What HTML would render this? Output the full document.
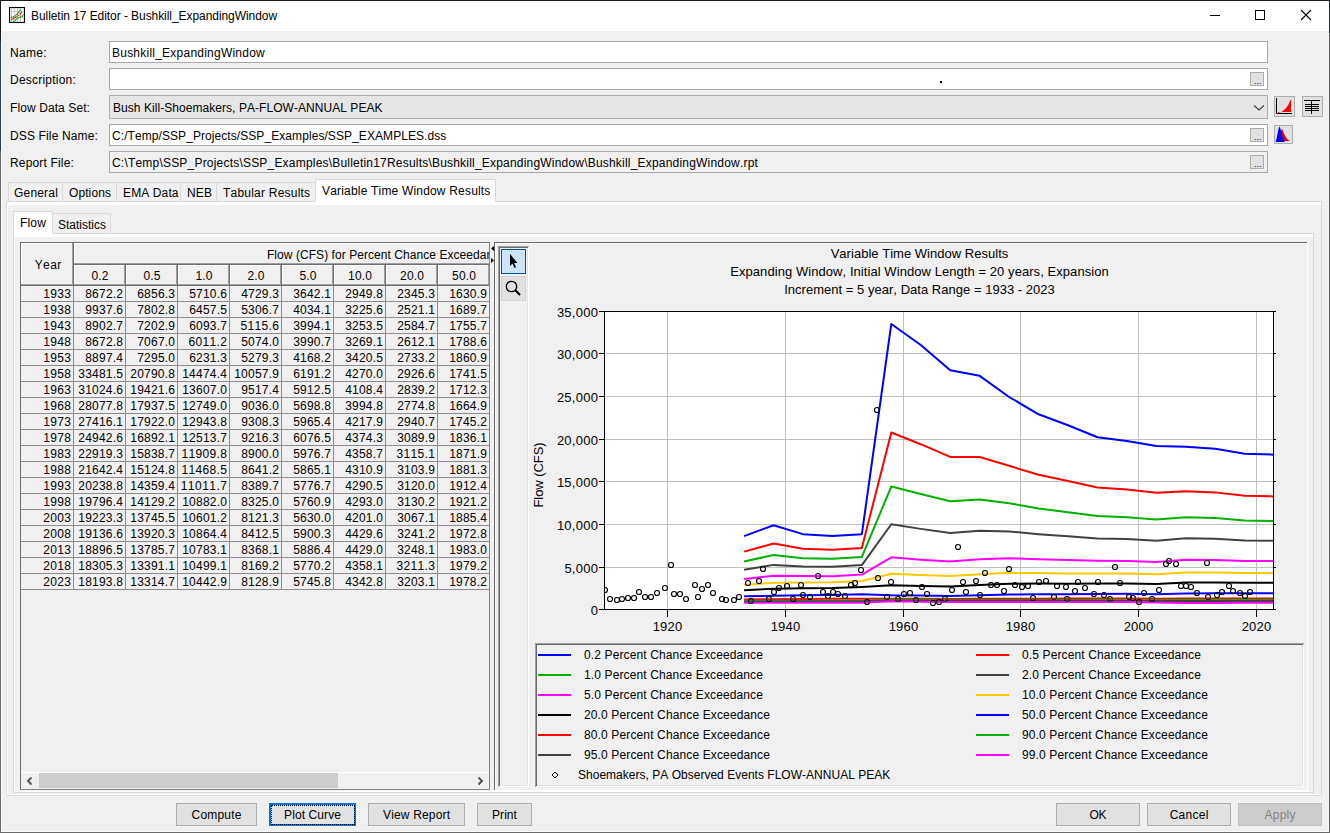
<!DOCTYPE html>
<html><head><meta charset="utf-8"><title>Bulletin 17 Editor - Bushkill_ExpandingWindow</title>
<style>
html,body{margin:0;padding:0;}
body{width:1330px;height:833px;position:relative;overflow:hidden;background:#f0f0f0;font-family:'Liberation Sans', sans-serif;font-size:12px;color:#000;}
body div{position:absolute;}
.t{white-space:nowrap;font-kerning:none;}
svg{display:block}
</style></head><body>
<div style="left:0px;top:0px;width:1330px;height:833px;background:#f0f0f0"></div>
<div style="left:1px;top:1px;width:1328px;height:30px;background:#fff"></div>
<div style="left:0px;top:0px;width:1330px;height:1px;background:#1c1c1c"></div>
<div style="left:0px;top:0px;width:1px;height:833px;background:#6a6a6a"></div>
<div style="left:0px;top:0px;width:1px;height:41px;background:#1c1c1c"></div>
<div style="left:0px;top:41px;width:1px;height:110px;background:#2a3f5f"></div>
<div style="left:1329px;top:0px;width:1px;height:833px;background:#6a6a6a"></div>
<div style="left:1329px;top:0px;width:1px;height:33px;background:#0f2a52"></div>
<div style="left:0px;top:832px;width:1330px;height:1px;background:#6a6a6a"></div>
<div style="left:1px;top:831px;width:1328px;height:1px;background:#fbfbfb"></div>
<div style="left:1px;top:31px;width:1px;height:801px;background:#f8f8f8"></div>
<svg style="position:absolute;left:9px;top:7px" width="16" height="16" viewBox="0 0 16 16">
<rect x="0.5" y="0.5" width="15" height="15" fill="#fff" stroke="#000" stroke-width="1.2"/>
<g stroke="#c4c4c4" stroke-width="1"><line x1="2.5" y1="1" x2="2.5" y2="15"/><line x1="5.5" y1="1" x2="5.5" y2="15"/><line x1="8.5" y1="1" x2="8.5" y2="15"/><line x1="11.5" y1="1" x2="11.5" y2="15"/><line x1="1" y1="4.5" x2="15" y2="4.5"/><line x1="1" y1="10.5" x2="15" y2="10.5"/></g>
<polyline points="2,10.5 4,10 6,9.5 8,7 10,5 12,2.5" fill="none" stroke="#16a016" stroke-width="1.3" stroke-dasharray="1.6 0.5"/>
<polyline points="2,13 5,11 8,9.5 10,8 13,5" fill="none" stroke="#ff1a1a" stroke-width="1.3" stroke-dasharray="1.6 0.5"/>
<polyline points="4,15 7,12.5 9,11 11,10 13,9.5 15,7.5" fill="none" stroke="#16a016" stroke-width="1.3" stroke-dasharray="1.6 0.5"/>
</svg>
<div class="t" style="left:31px;top:9px;font-size:12px;line-height:14px;color:#000;letter-spacing:-0.062px;">Bulletin 17 Editor - Bushkill_ExpandingWindow</div>
<div style="left:1210px;top:15px;width:10px;height:1px;background:#000"></div>
<div style="left:1255px;top:10px;width:10px;height:10px;border:1px solid #000;box-sizing:border-box"></div>
<svg style="position:absolute;left:1300px;top:9px" width="12" height="12" viewBox="0 0 12 12"><path d="M1 1 L11 11 M11 1 L1 11" stroke="#000" stroke-width="1.1"/></svg>
<div class="t" style="left:10px;top:46px;font-size:12px;line-height:14px;color:#000;letter-spacing:0.331px;">Name:</div>
<div class="t" style="left:10px;top:73px;font-size:12px;line-height:14px;color:#000;letter-spacing:0.220px;">Description:</div>
<div class="t" style="left:10px;top:101px;font-size:12px;line-height:14px;color:#000;letter-spacing:0.095px;">Flow Data Set:</div>
<div class="t" style="left:10px;top:129px;font-size:12px;line-height:14px;color:#000;letter-spacing:0.142px;">DSS File Name:</div>
<div class="t" style="left:10px;top:156px;font-size:12px;line-height:14px;color:#000;letter-spacing:0.165px;">Report File:</div>
<div style="left:109px;top:41px;width:1159px;height:22px;background:#fff;border:1px solid #a7a7aa;box-sizing:border-box"></div>
<div class="t" style="left:112px;top:46px;font-size:12px;line-height:14px;color:#000;letter-spacing:0.232px;">Bushkill_ExpandingWindow</div>
<div style="left:109px;top:68px;width:1159px;height:22px;background:#fff;border:1px solid #a7a7aa;box-sizing:border-box"></div>
<div style="left:1250px;top:72px;width:14px;height:14px;background:#e1e1e1;border:1px solid #adadad;box-sizing:border-box"></div>
<div class="t" style="left:1254px;top:76px;font-size:9px;line-height:11px;color:#000;">...</div>
<div style="left:109px;top:95px;width:1159px;height:24px;background:#e5e5e5;border:1px solid #adadad;box-sizing:border-box"></div>
<div class="t" style="left:113px;top:101px;font-size:12px;line-height:14px;color:#000;letter-spacing:0.053px;">Bush Kill-Shoemakers, PA-FLOW-ANNUAL PEAK</div>
<svg style="position:absolute;left:1253px;top:104px" width="12" height="8" viewBox="0 0 12 8"><polyline points="1,1.5 6,6 11,1.5" fill="none" stroke="#404040" stroke-width="1.2"/></svg>
<div style="left:109px;top:124px;width:1159px;height:22px;background:#fff;border:1px solid #a7a7aa;box-sizing:border-box"></div>
<div style="left:1250px;top:128px;width:14px;height:14px;background:#e1e1e1;border:1px solid #adadad;box-sizing:border-box"></div>
<div class="t" style="left:1254px;top:132px;font-size:9px;line-height:11px;color:#000;">...</div>
<div class="t" style="left:112px;top:129px;font-size:12px;line-height:14px;color:#000;letter-spacing:0.072px;">C:/Temp/SSP_Projects/SSP_Examples/SSP_EXAMPLES.dss</div>
<div style="left:109px;top:151px;width:1159px;height:22px;background:#f0f0f0;border:1px solid #a7a7aa;box-sizing:border-box"></div>
<div style="left:1250px;top:155px;width:14px;height:14px;background:#e1e1e1;border:1px solid #adadad;box-sizing:border-box"></div>
<div class="t" style="left:1254px;top:159px;font-size:9px;line-height:11px;color:#000;">...</div>
<div class="t" style="left:112px;top:156px;font-size:12px;line-height:14px;color:#000;letter-spacing:0.201px;">C:\Temp\SSP_Projects\SSP_Examples\Bulletin17Results\Bushkill_ExpandingWindow\Bushkill_ExpandingWindow.rpt</div>
<div style="left:940px;top:81px;width:2px;height:2px;background:#000"></div>
<div style="left:1274px;top:96px;width:21px;height:21px;background:#e1e1e1;border:1px solid #adadad;box-sizing:border-box"></div>
<svg style="position:absolute;left:1274px;top:96px" width="21" height="21" viewBox="0 0 21 21">
<path d="M4 17 Q12 16 17 3 L17 16 L4 16 Z" fill="#ff0000"/>
<path d="M2.5 2 V17.5 H18" fill="none" stroke="#000" stroke-width="1"/>
</svg>
<div style="left:1302px;top:96px;width:21px;height:21px;background:#e1e1e1;border:1px solid #adadad;box-sizing:border-box"></div>
<svg style="position:absolute;left:1302px;top:96px" width="21" height="21" viewBox="0 0 21 21">
<g stroke="#000" stroke-width="1"><line x1="2" y1="4.5" x2="18" y2="4.5"/><line x1="3" y1="8.5" x2="17" y2="8.5"/><line x1="3" y1="10.5" x2="17" y2="10.5"/><line x1="3" y1="12.5" x2="17" y2="12.5"/><line x1="3" y1="14.5" x2="17" y2="14.5"/><line x1="9.5" y1="4" x2="9.5" y2="18"/></g>
</svg>
<div style="left:1274px;top:125px;width:19px;height:19px;background:#e1e1e1;border:1px solid #adadad;box-sizing:border-box"></div>
<svg style="position:absolute;left:1274px;top:125px" width="19" height="19" viewBox="0 0 19 19">
<path d="M3 16 C5 16 6 6 8 4 C9 5 11 14 16 16 Z" fill="#e00000"/>
<path d="M1.5 17 C3 15 4 3 5.5 1.5 C7 3 8 14 11 17 Z" fill="#0000ff"/>
</svg>
<div style="left:8px;top:182px;width:55px;height:20px;background:#f0f0f0;border:1px solid #d9d9d9;box-sizing:border-box"></div>
<div class="t" style="left:14px;top:186px;font-size:12px;line-height:14px;color:#000;letter-spacing:0.188px;">General</div>
<div style="left:62px;top:182px;width:55px;height:20px;background:#f0f0f0;border:1px solid #d9d9d9;box-sizing:border-box"></div>
<div class="t" style="left:69px;top:186px;font-size:12px;line-height:14px;color:#000;letter-spacing:0.094px;">Options</div>
<div style="left:116px;top:182px;width:65px;height:20px;background:#f0f0f0;border:1px solid #d9d9d9;box-sizing:border-box"></div>
<div class="t" style="left:123px;top:186px;font-size:12px;line-height:14px;color:#000;letter-spacing:0.123px;">EMA Data</div>
<div style="left:180px;top:182px;width:37px;height:20px;background:#f0f0f0;border:1px solid #d9d9d9;box-sizing:border-box"></div>
<div class="t" style="left:187px;top:186px;font-size:12px;line-height:14px;color:#000;letter-spacing:0.109px;">NEB</div>
<div style="left:216px;top:182px;width:100px;height:20px;background:#f0f0f0;border:1px solid #d9d9d9;box-sizing:border-box"></div>
<div class="t" style="left:223px;top:186px;font-size:12px;line-height:14px;color:#000;letter-spacing:0.220px;">Tabular Results</div>
<div style="left:315px;top:179px;width:181px;height:26px;background:#fff;border:1px solid #d9d9d9;border-bottom:none;box-sizing:border-box"></div>
<div class="t" style="left:322px;top:184px;font-size:12px;line-height:14px;color:#000;letter-spacing:0.184px;">Variable Time Window Results</div>
<div style="left:6px;top:201px;width:1316px;height:1px;background:#d9d9d9"></div>
<div style="left:6px;top:201px;width:1px;height:595px;background:#d9d9d9"></div>
<div style="left:1321px;top:201px;width:1px;height:595px;background:#d9d9d9"></div>
<div style="left:6px;top:795px;width:1316px;height:1px;background:#d9d9d9"></div>
<div style="left:7px;top:202px;width:1314px;height:3px;background:#fff"></div>
<div style="left:7px;top:202px;width:1px;height:593px;background:#fff"></div>
<div style="left:7px;top:794px;width:1314px;height:1px;background:#fff"></div>
<div style="left:316px;top:201px;width:179px;height:4px;background:#fff"></div>
<div style="left:52px;top:213px;width:59px;height:21px;background:#f0f0f0;border:1px solid #d9d9d9;box-sizing:border-box"></div>
<div class="t" style="left:58px;top:218px;font-size:12px;line-height:14px;color:#000;letter-spacing:0.000px;">Statistics</div>
<div style="left:13px;top:211px;width:40px;height:26px;background:#fff;border:1px solid #d9d9d9;border-bottom:none;box-sizing:border-box"></div>
<div class="t" style="left:20px;top:216px;font-size:12px;line-height:14px;color:#000;letter-spacing:0.164px;">Flow</div>
<div style="left:13px;top:233px;width:1301px;height:1px;background:#d9d9d9"></div>
<div style="left:13px;top:233px;width:1px;height:560px;background:#d9d9d9"></div>
<div style="left:1313px;top:233px;width:1px;height:560px;background:#d9d9d9"></div>
<div style="left:13px;top:792px;width:1301px;height:1px;background:#d9d9d9"></div>
<div style="left:14px;top:234px;width:1299px;height:3px;background:#fff"></div>
<div style="left:14px;top:234px;width:1px;height:558px;background:#fff"></div>
<div style="left:14px;top:791px;width:1299px;height:1px;background:#fff"></div>
<div style="left:14px;top:233px;width:38px;height:4px;background:#fff"></div>
<div style="left:20px;top:242px;width:470px;height:548px;background:#f0f0f0"></div>
<div style="left:20px;top:242px;width:470px;height:1px;background:#6e6e6e"></div>
<div style="left:20px;top:242px;width:1px;height:548px;background:#6e6e6e"></div>
<div style="left:489px;top:242px;width:1px;height:548px;background:#828790"></div>
<div style="left:20px;top:789px;width:470px;height:1px;background:#828790"></div>
<div style="left:21px;top:243px;width:468px;height:529px;overflow:hidden">
<div style="left:0px;top:0px;width:53px;height:43px;background:#f0f0f0"></div>
<div style="left:0px;top:0px;width:52px;height:1px;background:#fff"></div>
<div style="left:0px;top:0px;width:1px;height:42px;background:#fff"></div>
<div style="left:51px;top:0px;width:1px;height:42px;background:#a0a0a0"></div>
<div style="left:0px;top:41px;width:52px;height:1px;background:#a0a0a0"></div>
<div style="left:52px;top:0px;width:1px;height:43px;background:#6e6e6e"></div>
<div style="left:0px;top:42px;width:53px;height:1px;background:#6e6e6e"></div>
<div class="t" style="left:-172.78px;width:400px;text-align:center;top:15px;font-size:12px;line-height:14px;color:#000;letter-spacing:0.438px;">Year</div>
<div style="left:53px;top:0px;width:625px;height:22px;background:#f0f0f0"></div>
<div style="left:53px;top:0px;width:624px;height:1px;background:#fff"></div>
<div style="left:53px;top:0px;width:1px;height:21px;background:#fff"></div>
<div style="left:676px;top:0px;width:1px;height:21px;background:#a0a0a0"></div>
<div style="left:53px;top:20px;width:624px;height:1px;background:#a0a0a0"></div>
<div style="left:677px;top:0px;width:1px;height:22px;background:#6e6e6e"></div>
<div style="left:53px;top:21px;width:625px;height:1px;background:#6e6e6e"></div>
<div class="t" style="left:165.53px;width:400px;text-align:center;top:5px;font-size:12px;line-height:14px;color:#000;letter-spacing:0.057px;">Flow (CFS) for Percent Chance Exceedance</div>
<div style="left:53px;top:22px;width:52px;height:21px;background:#f0f0f0"></div>
<div style="left:53px;top:22px;width:51px;height:1px;background:#fff"></div>
<div style="left:53px;top:22px;width:1px;height:20px;background:#fff"></div>
<div style="left:103px;top:22px;width:1px;height:20px;background:#a0a0a0"></div>
<div style="left:53px;top:41px;width:51px;height:1px;background:#a0a0a0"></div>
<div style="left:104px;top:22px;width:1px;height:21px;background:#6e6e6e"></div>
<div style="left:53px;top:42px;width:52px;height:1px;background:#6e6e6e"></div>
<div class="t" style="left:-120.95px;width:400px;text-align:center;top:26px;font-size:12px;line-height:14px;color:#000;letter-spacing:0.109px;">0.2</div>
<div style="left:105px;top:22px;width:52px;height:21px;background:#f0f0f0"></div>
<div style="left:105px;top:22px;width:51px;height:1px;background:#fff"></div>
<div style="left:105px;top:22px;width:1px;height:20px;background:#fff"></div>
<div style="left:155px;top:22px;width:1px;height:20px;background:#a0a0a0"></div>
<div style="left:105px;top:41px;width:51px;height:1px;background:#a0a0a0"></div>
<div style="left:156px;top:22px;width:1px;height:21px;background:#6e6e6e"></div>
<div style="left:105px;top:42px;width:52px;height:1px;background:#6e6e6e"></div>
<div class="t" style="left:-68.95px;width:400px;text-align:center;top:26px;font-size:12px;line-height:14px;color:#000;letter-spacing:0.109px;">0.5</div>
<div style="left:157px;top:22px;width:52px;height:21px;background:#f0f0f0"></div>
<div style="left:157px;top:22px;width:51px;height:1px;background:#fff"></div>
<div style="left:157px;top:22px;width:1px;height:20px;background:#fff"></div>
<div style="left:207px;top:22px;width:1px;height:20px;background:#a0a0a0"></div>
<div style="left:157px;top:41px;width:51px;height:1px;background:#a0a0a0"></div>
<div style="left:208px;top:22px;width:1px;height:21px;background:#6e6e6e"></div>
<div style="left:157px;top:42px;width:52px;height:1px;background:#6e6e6e"></div>
<div class="t" style="left:-16.95px;width:400px;text-align:center;top:26px;font-size:12px;line-height:14px;color:#000;letter-spacing:0.109px;">1.0</div>
<div style="left:209px;top:22px;width:52px;height:21px;background:#f0f0f0"></div>
<div style="left:209px;top:22px;width:51px;height:1px;background:#fff"></div>
<div style="left:209px;top:22px;width:1px;height:20px;background:#fff"></div>
<div style="left:259px;top:22px;width:1px;height:20px;background:#a0a0a0"></div>
<div style="left:209px;top:41px;width:51px;height:1px;background:#a0a0a0"></div>
<div style="left:260px;top:22px;width:1px;height:21px;background:#6e6e6e"></div>
<div style="left:209px;top:42px;width:52px;height:1px;background:#6e6e6e"></div>
<div class="t" style="left:35.05px;width:400px;text-align:center;top:26px;font-size:12px;line-height:14px;color:#000;letter-spacing:0.109px;">2.0</div>
<div style="left:261px;top:22px;width:52px;height:21px;background:#f0f0f0"></div>
<div style="left:261px;top:22px;width:51px;height:1px;background:#fff"></div>
<div style="left:261px;top:22px;width:1px;height:20px;background:#fff"></div>
<div style="left:311px;top:22px;width:1px;height:20px;background:#a0a0a0"></div>
<div style="left:261px;top:41px;width:51px;height:1px;background:#a0a0a0"></div>
<div style="left:312px;top:22px;width:1px;height:21px;background:#6e6e6e"></div>
<div style="left:261px;top:42px;width:52px;height:1px;background:#6e6e6e"></div>
<div class="t" style="left:87.05px;width:400px;text-align:center;top:26px;font-size:12px;line-height:14px;color:#000;letter-spacing:0.109px;">5.0</div>
<div style="left:313px;top:22px;width:52px;height:21px;background:#f0f0f0"></div>
<div style="left:313px;top:22px;width:51px;height:1px;background:#fff"></div>
<div style="left:313px;top:22px;width:1px;height:20px;background:#fff"></div>
<div style="left:363px;top:22px;width:1px;height:20px;background:#a0a0a0"></div>
<div style="left:313px;top:41px;width:51px;height:1px;background:#a0a0a0"></div>
<div style="left:364px;top:22px;width:1px;height:21px;background:#6e6e6e"></div>
<div style="left:313px;top:42px;width:52px;height:1px;background:#6e6e6e"></div>
<div class="t" style="left:139.08px;width:400px;text-align:center;top:26px;font-size:12px;line-height:14px;color:#000;letter-spacing:0.164px;">10.0</div>
<div style="left:365px;top:22px;width:52px;height:21px;background:#f0f0f0"></div>
<div style="left:365px;top:22px;width:51px;height:1px;background:#fff"></div>
<div style="left:365px;top:22px;width:1px;height:20px;background:#fff"></div>
<div style="left:415px;top:22px;width:1px;height:20px;background:#a0a0a0"></div>
<div style="left:365px;top:41px;width:51px;height:1px;background:#a0a0a0"></div>
<div style="left:416px;top:22px;width:1px;height:21px;background:#6e6e6e"></div>
<div style="left:365px;top:42px;width:52px;height:1px;background:#6e6e6e"></div>
<div class="t" style="left:191.08px;width:400px;text-align:center;top:26px;font-size:12px;line-height:14px;color:#000;letter-spacing:0.164px;">20.0</div>
<div style="left:417px;top:22px;width:52px;height:21px;background:#f0f0f0"></div>
<div style="left:417px;top:22px;width:51px;height:1px;background:#fff"></div>
<div style="left:417px;top:22px;width:1px;height:20px;background:#fff"></div>
<div style="left:467px;top:22px;width:1px;height:20px;background:#a0a0a0"></div>
<div style="left:417px;top:41px;width:51px;height:1px;background:#a0a0a0"></div>
<div style="left:468px;top:22px;width:1px;height:21px;background:#6e6e6e"></div>
<div style="left:417px;top:42px;width:52px;height:1px;background:#6e6e6e"></div>
<div class="t" style="left:243.08px;width:400px;text-align:center;top:26px;font-size:12px;line-height:14px;color:#000;letter-spacing:0.164px;">50.0</div>
<div style="left:469px;top:22px;width:52px;height:21px;background:#f0f0f0"></div>
<div style="left:469px;top:22px;width:51px;height:1px;background:#fff"></div>
<div style="left:469px;top:22px;width:1px;height:20px;background:#fff"></div>
<div style="left:519px;top:22px;width:1px;height:20px;background:#a0a0a0"></div>
<div style="left:469px;top:41px;width:51px;height:1px;background:#a0a0a0"></div>
<div style="left:520px;top:22px;width:1px;height:21px;background:#6e6e6e"></div>
<div style="left:469px;top:42px;width:52px;height:1px;background:#6e6e6e"></div>
<div class="t" style="left:295.08px;width:400px;text-align:center;top:26px;font-size:12px;line-height:14px;color:#000;letter-spacing:0.164px;">80.0</div>
<div style="left:521px;top:22px;width:52px;height:21px;background:#f0f0f0"></div>
<div style="left:521px;top:22px;width:51px;height:1px;background:#fff"></div>
<div style="left:521px;top:22px;width:1px;height:20px;background:#fff"></div>
<div style="left:571px;top:22px;width:1px;height:20px;background:#a0a0a0"></div>
<div style="left:521px;top:41px;width:51px;height:1px;background:#a0a0a0"></div>
<div style="left:572px;top:22px;width:1px;height:21px;background:#6e6e6e"></div>
<div style="left:521px;top:42px;width:52px;height:1px;background:#6e6e6e"></div>
<div class="t" style="left:347.08px;width:400px;text-align:center;top:26px;font-size:12px;line-height:14px;color:#000;letter-spacing:0.164px;">90.0</div>
<div style="left:573px;top:22px;width:52px;height:21px;background:#f0f0f0"></div>
<div style="left:573px;top:22px;width:51px;height:1px;background:#fff"></div>
<div style="left:573px;top:22px;width:1px;height:20px;background:#fff"></div>
<div style="left:623px;top:22px;width:1px;height:20px;background:#a0a0a0"></div>
<div style="left:573px;top:41px;width:51px;height:1px;background:#a0a0a0"></div>
<div style="left:624px;top:22px;width:1px;height:21px;background:#6e6e6e"></div>
<div style="left:573px;top:42px;width:52px;height:1px;background:#6e6e6e"></div>
<div class="t" style="left:399.08px;width:400px;text-align:center;top:26px;font-size:12px;line-height:14px;color:#000;letter-spacing:0.164px;">95.0</div>
<div style="left:625px;top:22px;width:52px;height:21px;background:#f0f0f0"></div>
<div style="left:625px;top:22px;width:51px;height:1px;background:#fff"></div>
<div style="left:625px;top:22px;width:1px;height:20px;background:#fff"></div>
<div style="left:675px;top:22px;width:1px;height:20px;background:#a0a0a0"></div>
<div style="left:625px;top:41px;width:51px;height:1px;background:#a0a0a0"></div>
<div style="left:676px;top:22px;width:1px;height:21px;background:#6e6e6e"></div>
<div style="left:625px;top:42px;width:52px;height:1px;background:#6e6e6e"></div>
<div class="t" style="left:451.08px;width:400px;text-align:center;top:26px;font-size:12px;line-height:14px;color:#000;letter-spacing:0.164px;">99.0</div>
<div style="left:0px;top:58px;width:468px;height:1px;background:#8c8c8c"></div>
<div class="t" style="left:-149.67px;width:200px;text-align:right;top:44px;font-size:12px;line-height:14px;color:#000;letter-spacing:0.328px;">1933</div>
<div class="t" style="left:-97.78px;width:200px;text-align:right;top:44px;font-size:12px;line-height:14px;color:#000;letter-spacing:0.219px;">8672.2</div>
<div class="t" style="left:-45.78px;width:200px;text-align:right;top:44px;font-size:12px;line-height:14px;color:#000;letter-spacing:0.219px;">6856.3</div>
<div class="t" style="left:6.22px;width:200px;text-align:right;top:44px;font-size:12px;line-height:14px;color:#000;letter-spacing:0.219px;">5710.6</div>
<div class="t" style="left:58.22px;width:200px;text-align:right;top:44px;font-size:12px;line-height:14px;color:#000;letter-spacing:0.219px;">4729.3</div>
<div class="t" style="left:110.22px;width:200px;text-align:right;top:44px;font-size:12px;line-height:14px;color:#000;letter-spacing:0.219px;">3642.1</div>
<div class="t" style="left:162.22px;width:200px;text-align:right;top:44px;font-size:12px;line-height:14px;color:#000;letter-spacing:0.219px;">2949.8</div>
<div class="t" style="left:214.22px;width:200px;text-align:right;top:44px;font-size:12px;line-height:14px;color:#000;letter-spacing:0.219px;">2345.3</div>
<div class="t" style="left:266.22px;width:200px;text-align:right;top:44px;font-size:12px;line-height:14px;color:#000;letter-spacing:0.219px;">1630.9</div>
<div style="left:0px;top:74px;width:468px;height:1px;background:#8c8c8c"></div>
<div class="t" style="left:-149.67px;width:200px;text-align:right;top:60px;font-size:12px;line-height:14px;color:#000;letter-spacing:0.328px;">1938</div>
<div class="t" style="left:-97.78px;width:200px;text-align:right;top:60px;font-size:12px;line-height:14px;color:#000;letter-spacing:0.219px;">9937.6</div>
<div class="t" style="left:-45.78px;width:200px;text-align:right;top:60px;font-size:12px;line-height:14px;color:#000;letter-spacing:0.219px;">7802.8</div>
<div class="t" style="left:6.22px;width:200px;text-align:right;top:60px;font-size:12px;line-height:14px;color:#000;letter-spacing:0.219px;">6457.5</div>
<div class="t" style="left:58.22px;width:200px;text-align:right;top:60px;font-size:12px;line-height:14px;color:#000;letter-spacing:0.219px;">5306.7</div>
<div class="t" style="left:110.22px;width:200px;text-align:right;top:60px;font-size:12px;line-height:14px;color:#000;letter-spacing:0.219px;">4034.1</div>
<div class="t" style="left:162.22px;width:200px;text-align:right;top:60px;font-size:12px;line-height:14px;color:#000;letter-spacing:0.219px;">3225.6</div>
<div class="t" style="left:214.22px;width:200px;text-align:right;top:60px;font-size:12px;line-height:14px;color:#000;letter-spacing:0.219px;">2521.1</div>
<div class="t" style="left:266.22px;width:200px;text-align:right;top:60px;font-size:12px;line-height:14px;color:#000;letter-spacing:0.219px;">1689.7</div>
<div style="left:0px;top:90px;width:468px;height:1px;background:#8c8c8c"></div>
<div class="t" style="left:-149.67px;width:200px;text-align:right;top:76px;font-size:12px;line-height:14px;color:#000;letter-spacing:0.328px;">1943</div>
<div class="t" style="left:-97.78px;width:200px;text-align:right;top:76px;font-size:12px;line-height:14px;color:#000;letter-spacing:0.219px;">8902.7</div>
<div class="t" style="left:-45.78px;width:200px;text-align:right;top:76px;font-size:12px;line-height:14px;color:#000;letter-spacing:0.219px;">7202.9</div>
<div class="t" style="left:6.22px;width:200px;text-align:right;top:76px;font-size:12px;line-height:14px;color:#000;letter-spacing:0.219px;">6093.7</div>
<div class="t" style="left:58.37px;width:200px;text-align:right;top:76px;font-size:12px;line-height:14px;color:#000;letter-spacing:0.367px;">5115.6</div>
<div class="t" style="left:110.22px;width:200px;text-align:right;top:76px;font-size:12px;line-height:14px;color:#000;letter-spacing:0.219px;">3994.1</div>
<div class="t" style="left:162.22px;width:200px;text-align:right;top:76px;font-size:12px;line-height:14px;color:#000;letter-spacing:0.219px;">3253.5</div>
<div class="t" style="left:214.22px;width:200px;text-align:right;top:76px;font-size:12px;line-height:14px;color:#000;letter-spacing:0.219px;">2584.7</div>
<div class="t" style="left:266.22px;width:200px;text-align:right;top:76px;font-size:12px;line-height:14px;color:#000;letter-spacing:0.219px;">1755.7</div>
<div style="left:0px;top:106px;width:468px;height:1px;background:#8c8c8c"></div>
<div class="t" style="left:-149.67px;width:200px;text-align:right;top:92px;font-size:12px;line-height:14px;color:#000;letter-spacing:0.328px;">1948</div>
<div class="t" style="left:-97.78px;width:200px;text-align:right;top:92px;font-size:12px;line-height:14px;color:#000;letter-spacing:0.219px;">8672.8</div>
<div class="t" style="left:-45.78px;width:200px;text-align:right;top:92px;font-size:12px;line-height:14px;color:#000;letter-spacing:0.219px;">7067.0</div>
<div class="t" style="left:6.37px;width:200px;text-align:right;top:92px;font-size:12px;line-height:14px;color:#000;letter-spacing:0.367px;">6011.2</div>
<div class="t" style="left:58.22px;width:200px;text-align:right;top:92px;font-size:12px;line-height:14px;color:#000;letter-spacing:0.219px;">5074.0</div>
<div class="t" style="left:110.22px;width:200px;text-align:right;top:92px;font-size:12px;line-height:14px;color:#000;letter-spacing:0.219px;">3990.7</div>
<div class="t" style="left:162.22px;width:200px;text-align:right;top:92px;font-size:12px;line-height:14px;color:#000;letter-spacing:0.219px;">3269.1</div>
<div class="t" style="left:214.22px;width:200px;text-align:right;top:92px;font-size:12px;line-height:14px;color:#000;letter-spacing:0.219px;">2612.1</div>
<div class="t" style="left:266.22px;width:200px;text-align:right;top:92px;font-size:12px;line-height:14px;color:#000;letter-spacing:0.219px;">1788.6</div>
<div style="left:0px;top:122px;width:468px;height:1px;background:#8c8c8c"></div>
<div class="t" style="left:-149.67px;width:200px;text-align:right;top:108px;font-size:12px;line-height:14px;color:#000;letter-spacing:0.328px;">1953</div>
<div class="t" style="left:-97.78px;width:200px;text-align:right;top:108px;font-size:12px;line-height:14px;color:#000;letter-spacing:0.219px;">8897.4</div>
<div class="t" style="left:-45.78px;width:200px;text-align:right;top:108px;font-size:12px;line-height:14px;color:#000;letter-spacing:0.219px;">7295.0</div>
<div class="t" style="left:6.22px;width:200px;text-align:right;top:108px;font-size:12px;line-height:14px;color:#000;letter-spacing:0.219px;">6231.3</div>
<div class="t" style="left:58.22px;width:200px;text-align:right;top:108px;font-size:12px;line-height:14px;color:#000;letter-spacing:0.219px;">5279.3</div>
<div class="t" style="left:110.22px;width:200px;text-align:right;top:108px;font-size:12px;line-height:14px;color:#000;letter-spacing:0.219px;">4168.2</div>
<div class="t" style="left:162.22px;width:200px;text-align:right;top:108px;font-size:12px;line-height:14px;color:#000;letter-spacing:0.219px;">3420.5</div>
<div class="t" style="left:214.22px;width:200px;text-align:right;top:108px;font-size:12px;line-height:14px;color:#000;letter-spacing:0.219px;">2733.2</div>
<div class="t" style="left:266.22px;width:200px;text-align:right;top:108px;font-size:12px;line-height:14px;color:#000;letter-spacing:0.219px;">1860.9</div>
<div style="left:0px;top:138px;width:468px;height:1px;background:#8c8c8c"></div>
<div class="t" style="left:-149.67px;width:200px;text-align:right;top:124px;font-size:12px;line-height:14px;color:#000;letter-spacing:0.328px;">1958</div>
<div class="t" style="left:-97.77px;width:200px;text-align:right;top:124px;font-size:12px;line-height:14px;color:#000;letter-spacing:0.234px;">33481.5</div>
<div class="t" style="left:-45.77px;width:200px;text-align:right;top:124px;font-size:12px;line-height:14px;color:#000;letter-spacing:0.234px;">20790.8</div>
<div class="t" style="left:6.23px;width:200px;text-align:right;top:124px;font-size:12px;line-height:14px;color:#000;letter-spacing:0.234px;">14474.4</div>
<div class="t" style="left:58.23px;width:200px;text-align:right;top:124px;font-size:12px;line-height:14px;color:#000;letter-spacing:0.234px;">10057.9</div>
<div class="t" style="left:110.22px;width:200px;text-align:right;top:124px;font-size:12px;line-height:14px;color:#000;letter-spacing:0.219px;">6191.2</div>
<div class="t" style="left:162.22px;width:200px;text-align:right;top:124px;font-size:12px;line-height:14px;color:#000;letter-spacing:0.219px;">4270.0</div>
<div class="t" style="left:214.22px;width:200px;text-align:right;top:124px;font-size:12px;line-height:14px;color:#000;letter-spacing:0.219px;">2926.6</div>
<div class="t" style="left:266.22px;width:200px;text-align:right;top:124px;font-size:12px;line-height:14px;color:#000;letter-spacing:0.219px;">1741.5</div>
<div style="left:0px;top:154px;width:468px;height:1px;background:#8c8c8c"></div>
<div class="t" style="left:-149.67px;width:200px;text-align:right;top:140px;font-size:12px;line-height:14px;color:#000;letter-spacing:0.328px;">1963</div>
<div class="t" style="left:-97.77px;width:200px;text-align:right;top:140px;font-size:12px;line-height:14px;color:#000;letter-spacing:0.234px;">31024.6</div>
<div class="t" style="left:-45.77px;width:200px;text-align:right;top:140px;font-size:12px;line-height:14px;color:#000;letter-spacing:0.234px;">19421.6</div>
<div class="t" style="left:6.23px;width:200px;text-align:right;top:140px;font-size:12px;line-height:14px;color:#000;letter-spacing:0.234px;">13607.0</div>
<div class="t" style="left:58.22px;width:200px;text-align:right;top:140px;font-size:12px;line-height:14px;color:#000;letter-spacing:0.219px;">9517.4</div>
<div class="t" style="left:110.22px;width:200px;text-align:right;top:140px;font-size:12px;line-height:14px;color:#000;letter-spacing:0.219px;">5912.5</div>
<div class="t" style="left:162.22px;width:200px;text-align:right;top:140px;font-size:12px;line-height:14px;color:#000;letter-spacing:0.219px;">4108.4</div>
<div class="t" style="left:214.22px;width:200px;text-align:right;top:140px;font-size:12px;line-height:14px;color:#000;letter-spacing:0.219px;">2839.2</div>
<div class="t" style="left:266.22px;width:200px;text-align:right;top:140px;font-size:12px;line-height:14px;color:#000;letter-spacing:0.219px;">1712.3</div>
<div style="left:0px;top:170px;width:468px;height:1px;background:#8c8c8c"></div>
<div class="t" style="left:-149.67px;width:200px;text-align:right;top:156px;font-size:12px;line-height:14px;color:#000;letter-spacing:0.328px;">1968</div>
<div class="t" style="left:-97.77px;width:200px;text-align:right;top:156px;font-size:12px;line-height:14px;color:#000;letter-spacing:0.234px;">28077.8</div>
<div class="t" style="left:-45.77px;width:200px;text-align:right;top:156px;font-size:12px;line-height:14px;color:#000;letter-spacing:0.234px;">17937.5</div>
<div class="t" style="left:6.23px;width:200px;text-align:right;top:156px;font-size:12px;line-height:14px;color:#000;letter-spacing:0.234px;">12749.0</div>
<div class="t" style="left:58.22px;width:200px;text-align:right;top:156px;font-size:12px;line-height:14px;color:#000;letter-spacing:0.219px;">9036.0</div>
<div class="t" style="left:110.22px;width:200px;text-align:right;top:156px;font-size:12px;line-height:14px;color:#000;letter-spacing:0.219px;">5698.8</div>
<div class="t" style="left:162.22px;width:200px;text-align:right;top:156px;font-size:12px;line-height:14px;color:#000;letter-spacing:0.219px;">3994.8</div>
<div class="t" style="left:214.22px;width:200px;text-align:right;top:156px;font-size:12px;line-height:14px;color:#000;letter-spacing:0.219px;">2774.8</div>
<div class="t" style="left:266.22px;width:200px;text-align:right;top:156px;font-size:12px;line-height:14px;color:#000;letter-spacing:0.219px;">1664.9</div>
<div style="left:0px;top:186px;width:468px;height:1px;background:#8c8c8c"></div>
<div class="t" style="left:-149.67px;width:200px;text-align:right;top:172px;font-size:12px;line-height:14px;color:#000;letter-spacing:0.328px;">1973</div>
<div class="t" style="left:-97.77px;width:200px;text-align:right;top:172px;font-size:12px;line-height:14px;color:#000;letter-spacing:0.234px;">27416.1</div>
<div class="t" style="left:-45.77px;width:200px;text-align:right;top:172px;font-size:12px;line-height:14px;color:#000;letter-spacing:0.234px;">17922.0</div>
<div class="t" style="left:6.23px;width:200px;text-align:right;top:172px;font-size:12px;line-height:14px;color:#000;letter-spacing:0.234px;">12943.8</div>
<div class="t" style="left:58.22px;width:200px;text-align:right;top:172px;font-size:12px;line-height:14px;color:#000;letter-spacing:0.219px;">9308.3</div>
<div class="t" style="left:110.22px;width:200px;text-align:right;top:172px;font-size:12px;line-height:14px;color:#000;letter-spacing:0.219px;">5965.4</div>
<div class="t" style="left:162.22px;width:200px;text-align:right;top:172px;font-size:12px;line-height:14px;color:#000;letter-spacing:0.219px;">4217.9</div>
<div class="t" style="left:214.22px;width:200px;text-align:right;top:172px;font-size:12px;line-height:14px;color:#000;letter-spacing:0.219px;">2940.7</div>
<div class="t" style="left:266.22px;width:200px;text-align:right;top:172px;font-size:12px;line-height:14px;color:#000;letter-spacing:0.219px;">1745.2</div>
<div style="left:0px;top:202px;width:468px;height:1px;background:#8c8c8c"></div>
<div class="t" style="left:-149.67px;width:200px;text-align:right;top:188px;font-size:12px;line-height:14px;color:#000;letter-spacing:0.328px;">1978</div>
<div class="t" style="left:-97.77px;width:200px;text-align:right;top:188px;font-size:12px;line-height:14px;color:#000;letter-spacing:0.234px;">24942.6</div>
<div class="t" style="left:-45.77px;width:200px;text-align:right;top:188px;font-size:12px;line-height:14px;color:#000;letter-spacing:0.234px;">16892.1</div>
<div class="t" style="left:6.23px;width:200px;text-align:right;top:188px;font-size:12px;line-height:14px;color:#000;letter-spacing:0.234px;">12513.7</div>
<div class="t" style="left:58.22px;width:200px;text-align:right;top:188px;font-size:12px;line-height:14px;color:#000;letter-spacing:0.219px;">9216.3</div>
<div class="t" style="left:110.22px;width:200px;text-align:right;top:188px;font-size:12px;line-height:14px;color:#000;letter-spacing:0.219px;">6076.5</div>
<div class="t" style="left:162.22px;width:200px;text-align:right;top:188px;font-size:12px;line-height:14px;color:#000;letter-spacing:0.219px;">4374.3</div>
<div class="t" style="left:214.22px;width:200px;text-align:right;top:188px;font-size:12px;line-height:14px;color:#000;letter-spacing:0.219px;">3089.9</div>
<div class="t" style="left:266.22px;width:200px;text-align:right;top:188px;font-size:12px;line-height:14px;color:#000;letter-spacing:0.219px;">1836.1</div>
<div style="left:0px;top:218px;width:468px;height:1px;background:#8c8c8c"></div>
<div class="t" style="left:-149.67px;width:200px;text-align:right;top:204px;font-size:12px;line-height:14px;color:#000;letter-spacing:0.328px;">1983</div>
<div class="t" style="left:-97.77px;width:200px;text-align:right;top:204px;font-size:12px;line-height:14px;color:#000;letter-spacing:0.234px;">22919.3</div>
<div class="t" style="left:-45.77px;width:200px;text-align:right;top:204px;font-size:12px;line-height:14px;color:#000;letter-spacing:0.234px;">15838.7</div>
<div class="t" style="left:6.36px;width:200px;text-align:right;top:204px;font-size:12px;line-height:14px;color:#000;letter-spacing:0.362px;">11909.8</div>
<div class="t" style="left:58.22px;width:200px;text-align:right;top:204px;font-size:12px;line-height:14px;color:#000;letter-spacing:0.219px;">8900.0</div>
<div class="t" style="left:110.22px;width:200px;text-align:right;top:204px;font-size:12px;line-height:14px;color:#000;letter-spacing:0.219px;">5976.7</div>
<div class="t" style="left:162.22px;width:200px;text-align:right;top:204px;font-size:12px;line-height:14px;color:#000;letter-spacing:0.219px;">4358.7</div>
<div class="t" style="left:214.37px;width:200px;text-align:right;top:204px;font-size:12px;line-height:14px;color:#000;letter-spacing:0.367px;">3115.1</div>
<div class="t" style="left:266.22px;width:200px;text-align:right;top:204px;font-size:12px;line-height:14px;color:#000;letter-spacing:0.219px;">1871.9</div>
<div style="left:0px;top:234px;width:468px;height:1px;background:#8c8c8c"></div>
<div class="t" style="left:-149.67px;width:200px;text-align:right;top:220px;font-size:12px;line-height:14px;color:#000;letter-spacing:0.328px;">1988</div>
<div class="t" style="left:-97.77px;width:200px;text-align:right;top:220px;font-size:12px;line-height:14px;color:#000;letter-spacing:0.234px;">21642.4</div>
<div class="t" style="left:-45.77px;width:200px;text-align:right;top:220px;font-size:12px;line-height:14px;color:#000;letter-spacing:0.234px;">15124.8</div>
<div class="t" style="left:6.36px;width:200px;text-align:right;top:220px;font-size:12px;line-height:14px;color:#000;letter-spacing:0.362px;">11468.5</div>
<div class="t" style="left:58.22px;width:200px;text-align:right;top:220px;font-size:12px;line-height:14px;color:#000;letter-spacing:0.219px;">8641.2</div>
<div class="t" style="left:110.22px;width:200px;text-align:right;top:220px;font-size:12px;line-height:14px;color:#000;letter-spacing:0.219px;">5865.1</div>
<div class="t" style="left:162.22px;width:200px;text-align:right;top:220px;font-size:12px;line-height:14px;color:#000;letter-spacing:0.219px;">4310.9</div>
<div class="t" style="left:214.22px;width:200px;text-align:right;top:220px;font-size:12px;line-height:14px;color:#000;letter-spacing:0.219px;">3103.9</div>
<div class="t" style="left:266.22px;width:200px;text-align:right;top:220px;font-size:12px;line-height:14px;color:#000;letter-spacing:0.219px;">1881.3</div>
<div style="left:0px;top:250px;width:468px;height:1px;background:#8c8c8c"></div>
<div class="t" style="left:-149.67px;width:200px;text-align:right;top:236px;font-size:12px;line-height:14px;color:#000;letter-spacing:0.328px;">1993</div>
<div class="t" style="left:-97.77px;width:200px;text-align:right;top:236px;font-size:12px;line-height:14px;color:#000;letter-spacing:0.234px;">20238.8</div>
<div class="t" style="left:-45.77px;width:200px;text-align:right;top:236px;font-size:12px;line-height:14px;color:#000;letter-spacing:0.234px;">14359.4</div>
<div class="t" style="left:6.49px;width:200px;text-align:right;top:236px;font-size:12px;line-height:14px;color:#000;letter-spacing:0.489px;">11011.7</div>
<div class="t" style="left:58.22px;width:200px;text-align:right;top:236px;font-size:12px;line-height:14px;color:#000;letter-spacing:0.219px;">8389.7</div>
<div class="t" style="left:110.22px;width:200px;text-align:right;top:236px;font-size:12px;line-height:14px;color:#000;letter-spacing:0.219px;">5776.7</div>
<div class="t" style="left:162.22px;width:200px;text-align:right;top:236px;font-size:12px;line-height:14px;color:#000;letter-spacing:0.219px;">4290.5</div>
<div class="t" style="left:214.22px;width:200px;text-align:right;top:236px;font-size:12px;line-height:14px;color:#000;letter-spacing:0.219px;">3120.0</div>
<div class="t" style="left:266.22px;width:200px;text-align:right;top:236px;font-size:12px;line-height:14px;color:#000;letter-spacing:0.219px;">1912.4</div>
<div style="left:0px;top:266px;width:468px;height:1px;background:#8c8c8c"></div>
<div class="t" style="left:-149.67px;width:200px;text-align:right;top:252px;font-size:12px;line-height:14px;color:#000;letter-spacing:0.328px;">1998</div>
<div class="t" style="left:-97.77px;width:200px;text-align:right;top:252px;font-size:12px;line-height:14px;color:#000;letter-spacing:0.234px;">19796.4</div>
<div class="t" style="left:-45.77px;width:200px;text-align:right;top:252px;font-size:12px;line-height:14px;color:#000;letter-spacing:0.234px;">14129.2</div>
<div class="t" style="left:6.23px;width:200px;text-align:right;top:252px;font-size:12px;line-height:14px;color:#000;letter-spacing:0.234px;">10882.0</div>
<div class="t" style="left:58.22px;width:200px;text-align:right;top:252px;font-size:12px;line-height:14px;color:#000;letter-spacing:0.219px;">8325.0</div>
<div class="t" style="left:110.22px;width:200px;text-align:right;top:252px;font-size:12px;line-height:14px;color:#000;letter-spacing:0.219px;">5760.9</div>
<div class="t" style="left:162.22px;width:200px;text-align:right;top:252px;font-size:12px;line-height:14px;color:#000;letter-spacing:0.219px;">4293.0</div>
<div class="t" style="left:214.22px;width:200px;text-align:right;top:252px;font-size:12px;line-height:14px;color:#000;letter-spacing:0.219px;">3130.2</div>
<div class="t" style="left:266.22px;width:200px;text-align:right;top:252px;font-size:12px;line-height:14px;color:#000;letter-spacing:0.219px;">1921.2</div>
<div style="left:0px;top:282px;width:468px;height:1px;background:#8c8c8c"></div>
<div class="t" style="left:-149.67px;width:200px;text-align:right;top:268px;font-size:12px;line-height:14px;color:#000;letter-spacing:0.328px;">2003</div>
<div class="t" style="left:-97.77px;width:200px;text-align:right;top:268px;font-size:12px;line-height:14px;color:#000;letter-spacing:0.234px;">19223.3</div>
<div class="t" style="left:-45.77px;width:200px;text-align:right;top:268px;font-size:12px;line-height:14px;color:#000;letter-spacing:0.234px;">13745.5</div>
<div class="t" style="left:6.23px;width:200px;text-align:right;top:268px;font-size:12px;line-height:14px;color:#000;letter-spacing:0.234px;">10601.2</div>
<div class="t" style="left:58.22px;width:200px;text-align:right;top:268px;font-size:12px;line-height:14px;color:#000;letter-spacing:0.219px;">8121.3</div>
<div class="t" style="left:110.22px;width:200px;text-align:right;top:268px;font-size:12px;line-height:14px;color:#000;letter-spacing:0.219px;">5630.0</div>
<div class="t" style="left:162.22px;width:200px;text-align:right;top:268px;font-size:12px;line-height:14px;color:#000;letter-spacing:0.219px;">4201.0</div>
<div class="t" style="left:214.22px;width:200px;text-align:right;top:268px;font-size:12px;line-height:14px;color:#000;letter-spacing:0.219px;">3067.1</div>
<div class="t" style="left:266.22px;width:200px;text-align:right;top:268px;font-size:12px;line-height:14px;color:#000;letter-spacing:0.219px;">1885.4</div>
<div style="left:0px;top:298px;width:468px;height:1px;background:#8c8c8c"></div>
<div class="t" style="left:-149.67px;width:200px;text-align:right;top:284px;font-size:12px;line-height:14px;color:#000;letter-spacing:0.328px;">2008</div>
<div class="t" style="left:-97.77px;width:200px;text-align:right;top:284px;font-size:12px;line-height:14px;color:#000;letter-spacing:0.234px;">19136.6</div>
<div class="t" style="left:-45.77px;width:200px;text-align:right;top:284px;font-size:12px;line-height:14px;color:#000;letter-spacing:0.234px;">13920.3</div>
<div class="t" style="left:6.23px;width:200px;text-align:right;top:284px;font-size:12px;line-height:14px;color:#000;letter-spacing:0.234px;">10864.4</div>
<div class="t" style="left:58.22px;width:200px;text-align:right;top:284px;font-size:12px;line-height:14px;color:#000;letter-spacing:0.219px;">8412.5</div>
<div class="t" style="left:110.22px;width:200px;text-align:right;top:284px;font-size:12px;line-height:14px;color:#000;letter-spacing:0.219px;">5900.3</div>
<div class="t" style="left:162.22px;width:200px;text-align:right;top:284px;font-size:12px;line-height:14px;color:#000;letter-spacing:0.219px;">4429.6</div>
<div class="t" style="left:214.22px;width:200px;text-align:right;top:284px;font-size:12px;line-height:14px;color:#000;letter-spacing:0.219px;">3241.2</div>
<div class="t" style="left:266.22px;width:200px;text-align:right;top:284px;font-size:12px;line-height:14px;color:#000;letter-spacing:0.219px;">1972.8</div>
<div style="left:0px;top:314px;width:468px;height:1px;background:#8c8c8c"></div>
<div class="t" style="left:-149.67px;width:200px;text-align:right;top:300px;font-size:12px;line-height:14px;color:#000;letter-spacing:0.328px;">2013</div>
<div class="t" style="left:-97.77px;width:200px;text-align:right;top:300px;font-size:12px;line-height:14px;color:#000;letter-spacing:0.234px;">18896.5</div>
<div class="t" style="left:-45.77px;width:200px;text-align:right;top:300px;font-size:12px;line-height:14px;color:#000;letter-spacing:0.234px;">13785.7</div>
<div class="t" style="left:6.23px;width:200px;text-align:right;top:300px;font-size:12px;line-height:14px;color:#000;letter-spacing:0.234px;">10783.1</div>
<div class="t" style="left:58.22px;width:200px;text-align:right;top:300px;font-size:12px;line-height:14px;color:#000;letter-spacing:0.219px;">8368.1</div>
<div class="t" style="left:110.22px;width:200px;text-align:right;top:300px;font-size:12px;line-height:14px;color:#000;letter-spacing:0.219px;">5886.4</div>
<div class="t" style="left:162.22px;width:200px;text-align:right;top:300px;font-size:12px;line-height:14px;color:#000;letter-spacing:0.219px;">4429.0</div>
<div class="t" style="left:214.22px;width:200px;text-align:right;top:300px;font-size:12px;line-height:14px;color:#000;letter-spacing:0.219px;">3248.1</div>
<div class="t" style="left:266.22px;width:200px;text-align:right;top:300px;font-size:12px;line-height:14px;color:#000;letter-spacing:0.219px;">1983.0</div>
<div style="left:0px;top:330px;width:468px;height:1px;background:#8c8c8c"></div>
<div class="t" style="left:-149.67px;width:200px;text-align:right;top:316px;font-size:12px;line-height:14px;color:#000;letter-spacing:0.328px;">2018</div>
<div class="t" style="left:-97.77px;width:200px;text-align:right;top:316px;font-size:12px;line-height:14px;color:#000;letter-spacing:0.234px;">18305.3</div>
<div class="t" style="left:-45.77px;width:200px;text-align:right;top:316px;font-size:12px;line-height:14px;color:#000;letter-spacing:0.234px;">13391.1</div>
<div class="t" style="left:6.23px;width:200px;text-align:right;top:316px;font-size:12px;line-height:14px;color:#000;letter-spacing:0.234px;">10499.1</div>
<div class="t" style="left:58.22px;width:200px;text-align:right;top:316px;font-size:12px;line-height:14px;color:#000;letter-spacing:0.219px;">8169.2</div>
<div class="t" style="left:110.22px;width:200px;text-align:right;top:316px;font-size:12px;line-height:14px;color:#000;letter-spacing:0.219px;">5770.2</div>
<div class="t" style="left:162.22px;width:200px;text-align:right;top:316px;font-size:12px;line-height:14px;color:#000;letter-spacing:0.219px;">4358.1</div>
<div class="t" style="left:214.37px;width:200px;text-align:right;top:316px;font-size:12px;line-height:14px;color:#000;letter-spacing:0.367px;">3211.3</div>
<div class="t" style="left:266.22px;width:200px;text-align:right;top:316px;font-size:12px;line-height:14px;color:#000;letter-spacing:0.219px;">1979.2</div>
<div style="left:0px;top:346px;width:468px;height:1px;background:#8c8c8c"></div>
<div class="t" style="left:-149.67px;width:200px;text-align:right;top:332px;font-size:12px;line-height:14px;color:#000;letter-spacing:0.328px;">2023</div>
<div class="t" style="left:-97.77px;width:200px;text-align:right;top:332px;font-size:12px;line-height:14px;color:#000;letter-spacing:0.234px;">18193.8</div>
<div class="t" style="left:-45.77px;width:200px;text-align:right;top:332px;font-size:12px;line-height:14px;color:#000;letter-spacing:0.234px;">13314.7</div>
<div class="t" style="left:6.23px;width:200px;text-align:right;top:332px;font-size:12px;line-height:14px;color:#000;letter-spacing:0.234px;">10442.9</div>
<div class="t" style="left:58.22px;width:200px;text-align:right;top:332px;font-size:12px;line-height:14px;color:#000;letter-spacing:0.219px;">8128.9</div>
<div class="t" style="left:110.22px;width:200px;text-align:right;top:332px;font-size:12px;line-height:14px;color:#000;letter-spacing:0.219px;">5745.8</div>
<div class="t" style="left:162.22px;width:200px;text-align:right;top:332px;font-size:12px;line-height:14px;color:#000;letter-spacing:0.219px;">4342.8</div>
<div class="t" style="left:214.22px;width:200px;text-align:right;top:332px;font-size:12px;line-height:14px;color:#000;letter-spacing:0.219px;">3203.1</div>
<div class="t" style="left:266.22px;width:200px;text-align:right;top:332px;font-size:12px;line-height:14px;color:#000;letter-spacing:0.219px;">1978.2</div>
<div style="left:52px;top:43px;width:1px;height:304px;background:#8c8c8c"></div>
<div style="left:104px;top:43px;width:1px;height:304px;background:#8c8c8c"></div>
<div style="left:156px;top:43px;width:1px;height:304px;background:#8c8c8c"></div>
<div style="left:208px;top:43px;width:1px;height:304px;background:#8c8c8c"></div>
<div style="left:260px;top:43px;width:1px;height:304px;background:#8c8c8c"></div>
<div style="left:312px;top:43px;width:1px;height:304px;background:#8c8c8c"></div>
<div style="left:364px;top:43px;width:1px;height:304px;background:#8c8c8c"></div>
<div style="left:416px;top:43px;width:1px;height:304px;background:#8c8c8c"></div>
<div style="left:468px;top:43px;width:1px;height:304px;background:#8c8c8c"></div>
</div>
<div style="left:21px;top:772px;width:468px;height:17px;background:#f0f0f0"></div>
<div style="left:21px;top:772px;width:468px;height:1px;background:#fff"></div>
<div style="left:39px;top:773px;width:299px;height:15px;background:#cdcdcd"></div>
<svg style="position:absolute;left:25px;top:776px" width="10" height="10" viewBox="0 0 10 10"><polyline points="6.5,1.5 3,5 6.5,8.5" fill="none" stroke="#505050" stroke-width="1.9"/></svg>
<svg style="position:absolute;left:475px;top:776px" width="10" height="10" viewBox="0 0 10 10"><polyline points="3.5,1.5 7,5 3.5,8.5" fill="none" stroke="#505050" stroke-width="1.9"/></svg>
<svg style="position:absolute;left:490px;top:244px" width="5" height="20" viewBox="0 0 5 20"><path d="M4 2 L1 4.5 L4 7 Z" fill="#000"/><path d="M1 14 L4 16.5 L1 19 Z" fill="#000"/></svg>
<div style="left:494px;top:242px;width:813px;height:1px;background:#696969"></div>
<div style="left:494px;top:242px;width:1px;height:548px;background:#696969"></div>
<div style="left:495px;top:243px;width:811px;height:1px;background:#fafafa"></div>
<div style="left:495px;top:243px;width:1px;height:547px;background:#fafafa"></div>
<div style="left:494px;top:790px;width:814px;height:1px;background:#fff"></div>
<div style="left:1307px;top:242px;width:1px;height:549px;background:#fff"></div>
<div style="left:498px;top:246px;width:1px;height:541px;background:#a0a0a0"></div>
<div style="left:499px;top:246px;width:30px;height:1px;background:#a0a0a0"></div>
<div style="left:499px;top:247px;width:1px;height:539px;background:#696969"></div>
<div style="left:500px;top:247px;width:28px;height:1px;background:#696969"></div>
<div style="left:499px;top:786px;width:30px;height:1px;background:#fff"></div>
<div style="left:528px;top:247px;width:1px;height:539px;background:#fff"></div>
<div style="left:500px;top:785px;width:28px;height:1px;background:#e3e3e3"></div>
<div style="left:527px;top:248px;width:1px;height:537px;background:#e3e3e3"></div>
<div style="left:535px;top:643px;width:1px;height:144px;background:#a0a0a0"></div>
<div style="left:536px;top:643px;width:768px;height:1px;background:#a0a0a0"></div>
<div style="left:536px;top:644px;width:1px;height:142px;background:#696969"></div>
<div style="left:537px;top:644px;width:766px;height:1px;background:#696969"></div>
<div style="left:536px;top:786px;width:768px;height:1px;background:#fff"></div>
<div style="left:1303px;top:644px;width:1px;height:142px;background:#fff"></div>
<div style="left:537px;top:785px;width:766px;height:1px;background:#e3e3e3"></div>
<div style="left:1302px;top:645px;width:1px;height:140px;background:#e3e3e3"></div>
<div style="left:501px;top:249px;width:25px;height:25px;background:#cce4f7;border:1px solid #005499;box-sizing:border-box"></div>
<svg style="position:absolute;left:501px;top:249px" width="25" height="25" viewBox="0 0 25 25"><path d="M9 5 L9 17 L11.5 14.5 L13.5 19 L15 18.3 L13.2 14 L16.5 14 Z" fill="#000"/></svg>
<div style="left:501px;top:276px;width:25px;height:25px;background:#e1e1e1;border:1px solid #d0d0d0;box-sizing:border-box"></div>
<svg style="position:absolute;left:501px;top:276px" width="25" height="25" viewBox="0 0 25 25"><circle cx="10.5" cy="10.5" r="5.2" fill="none" stroke="#000" stroke-width="1.3"/><line x1="14.3" y1="14.3" x2="19" y2="19" stroke="#000" stroke-width="2"/></svg>
<div class="t" style="left:619.51px;width:600px;text-align:center;top:246px;font-size:13px;line-height:15px;color:#000;letter-spacing:0.023px;">Variable Time Window Results</div>
<div class="t" style="left:619.53px;width:600px;text-align:center;top:264px;font-size:13px;line-height:15px;color:#000;letter-spacing:0.064px;">Expanding Window, Initial Window Length = 20 years, Expansion</div>
<div class="t" style="left:619.51px;width:600px;text-align:center;top:282px;font-size:13px;line-height:15px;color:#000;letter-spacing:0.025px;">Increment = 5 year, Data Range = 1933 - 2023</div>
<svg style="position:absolute;left:0;top:0" width="1330" height="833" viewBox="0 0 1330 833">
<defs><clipPath id="pc"><rect x="605" y="312" width="668" height="297"/></clipPath></defs>
<rect x="604.5" y="311.5" width="669" height="298" fill="#fff"/>
<path d="M605 567.5H1273 M605 524.5H1273 M605 481.5H1273 M605 439.5H1273 M605 396.5H1273 M605 353.5H1273 M667.5 312V609 M785.5 312V609 M903.5 312V609 M1020.5 312V609 M1138.5 312V609 M1256.5 312V609" stroke="#c0c0c0" stroke-width="1" fill="none" shape-rendering="crispEdges"/>
<path d="M599 609.5H604 M1274 609.5H1276 M599 567.5H604 M1274 567.5H1276 M599 524.5H604 M1274 524.5H1276 M599 481.5H604 M1274 481.5H1276 M599 439.5H604 M1274 439.5H1276 M599 396.5H604 M1274 396.5H1276 M599 353.5H604 M1274 353.5H1276 M599 311.5H604 M1274 311.5H1276 M667.5 610V617 M785.5 610V617 M903.5 610V617 M1020.5 610V617 M1138.5 610V617 M1256.5 610V617" stroke="#000" stroke-width="1" fill="none" shape-rendering="crispEdges"/>
<g clip-path="url(#pc)" fill="none" stroke-width="2" stroke-linejoin="round">
<polyline points="744.07,536.10 773.52,525.28 802.97,534.13 832.42,536.10 861.87,534.18 891.32,323.98 920.77,344.99 950.22,370.18 979.67,375.84 1009.12,396.99 1038.57,414.29 1068.02,425.21 1097.47,437.21 1126.92,440.99 1156.37,445.89 1185.82,446.63 1215.27,448.68 1244.72,453.74 1274.17,454.69" stroke="#0000ff"/>
<polyline points="744.07,551.63 773.52,543.54 802.97,548.67 832.42,549.83 861.87,547.88 891.32,432.49 920.77,444.20 950.22,456.88 979.67,457.02 1009.12,465.82 1038.57,474.83 1068.02,480.93 1097.47,487.48 1126.92,489.45 1156.37,492.73 1185.82,491.23 1215.27,492.38 1244.72,495.76 1274.17,496.41" stroke="#ff0000"/>
<polyline points="744.07,561.42 773.52,555.04 802.97,558.15 832.42,558.85 861.87,556.97 891.32,486.49 920.77,493.91 950.22,501.25 979.67,499.58 1009.12,503.26 1038.57,508.42 1068.02,512.19 1097.47,516.10 1126.92,517.21 1156.37,519.61 1185.82,517.36 1215.27,518.05 1244.72,520.48 1274.17,520.96" stroke="#00b200"/>
<polyline points="744.07,569.81 773.52,564.88 802.97,566.51 832.42,566.87 861.87,565.11 891.32,524.25 920.77,528.88 950.22,532.99 979.67,530.66 1009.12,531.45 1038.57,534.15 1068.02,536.37 1097.47,538.52 1126.92,539.07 1156.37,540.81 1185.82,538.32 1215.27,538.70 1244.72,540.40 1274.17,540.75" stroke="#404040"/>
<polyline points="744.07,579.11 773.52,575.76 802.97,576.10 832.42,576.13 861.87,574.61 891.32,557.32 920.77,559.70 950.22,561.53 979.67,559.25 1009.12,558.30 1038.57,559.15 1068.02,560.10 1097.47,560.86 1126.92,560.99 1156.37,562.11 1185.82,559.80 1215.27,559.92 1244.72,560.91 1274.17,561.12" stroke="#ff00ff"/>
<polyline points="744.07,585.03 773.52,582.67 802.97,582.43 832.42,582.30 861.87,581.00 891.32,573.74 920.77,575.12 950.22,576.09 979.67,574.19 1009.12,572.85 1038.57,572.98 1068.02,573.39 1097.47,573.57 1126.92,573.54 1156.37,574.33 1185.82,572.38 1215.27,572.38 1244.72,572.99 1274.17,573.12" stroke="#ffc800"/>
<polyline points="744.07,590.20 773.52,588.69 802.97,588.15 832.42,587.92 861.87,586.88 891.32,585.23 920.77,585.97 950.22,586.53 979.67,585.11 1009.12,583.83 1038.57,583.62 1068.02,583.71 1097.47,583.57 1126.92,583.49 1156.37,584.03 1185.82,582.54 1215.27,582.48 1244.72,582.79 1274.17,582.86" stroke="#000000"/>
<polyline points="744.07,596.31 773.52,595.80 802.97,595.24 832.42,594.96 861.87,594.34 891.32,595.36 920.77,595.61 950.22,596.02 979.67,595.33 1009.12,594.55 1038.57,594.25 1068.02,594.16 1097.47,593.90 1126.92,593.82 1156.37,594.13 1185.82,593.38 1215.27,593.30 1244.72,593.33 1274.17,593.34" stroke="#0000ff"/>
<polyline points="744.07,599.56 773.52,599.13 802.97,598.88 832.42,598.84 861.87,598.79 891.32,598.71 920.77,598.79 950.22,598.88 979.67,598.79 1009.12,598.71 1038.57,598.66 1068.02,598.62 1097.47,598.60 1126.92,598.58 1156.37,598.67 1185.82,598.54 1215.27,598.49 1244.72,598.47 1274.17,598.47" stroke="#ff0000"/>
<polyline points="744.07,600.87 773.52,600.85 802.97,600.85 832.42,600.80 861.87,600.76 891.32,599.69 920.77,599.78 950.22,599.90 979.67,599.99 1009.12,600.03 1038.57,600.08 1068.02,600.09 1097.47,600.12 1126.92,600.14 1156.37,600.18 1185.82,600.12 1215.27,600.09 1244.72,600.08 1274.17,600.08" stroke="#00b200"/>
<polyline points="744.07,601.83 773.52,601.70 802.97,601.61 832.42,601.57 861.87,601.53 891.32,600.63 920.77,600.66 950.22,600.67 979.67,600.76 1009.12,600.80 1038.57,600.85 1068.02,600.86 1097.47,600.89 1126.92,600.91 1156.37,600.95 1185.82,601.00 1215.27,601.02 1244.72,601.02 1274.17,601.02" stroke="#404040"/>
<polyline points="744.07,602.79 773.52,602.79 802.97,602.79 832.42,602.77 861.87,602.73 891.32,601.36 920.77,601.70 950.22,601.98 979.67,602.00 1009.12,602.00 1038.57,601.99 1068.02,601.98 1097.47,601.98 1126.92,601.98 1156.37,602.55 1185.82,602.90 1215.27,602.90 1244.72,602.81 1274.17,602.79" stroke="#ff00ff"/>
</g>
<g clip-path="url(#pc)" fill="none" stroke="#000" stroke-width="1.15">
<circle cx="605" cy="590" r="2.5"/>
<circle cx="610" cy="599" r="2.5"/>
<circle cx="617" cy="600" r="2.5"/>
<circle cx="622" cy="599" r="2.5"/>
<circle cx="628" cy="598" r="2.5"/>
<circle cx="634" cy="598" r="2.5"/>
<circle cx="639" cy="592" r="2.5"/>
<circle cx="645" cy="597" r="2.5"/>
<circle cx="651" cy="597" r="2.5"/>
<circle cx="657" cy="593" r="2.5"/>
<circle cx="665" cy="588" r="2.5"/>
<circle cx="671" cy="565" r="2.5"/>
<circle cx="674" cy="594" r="2.5"/>
<circle cx="680" cy="594" r="2.5"/>
<circle cx="686" cy="599" r="2.5"/>
<circle cx="695" cy="585" r="2.5"/>
<circle cx="698" cy="597" r="2.5"/>
<circle cx="702" cy="589" r="2.5"/>
<circle cx="708" cy="585" r="2.5"/>
<circle cx="713" cy="593" r="2.5"/>
<circle cx="722" cy="599" r="2.5"/>
<circle cx="726" cy="600" r="2.5"/>
<circle cx="734" cy="600" r="2.5"/>
<circle cx="739" cy="597" r="2.5"/>
<circle cx="748" cy="583" r="2.5"/>
<circle cx="751" cy="601" r="2.5"/>
<circle cx="759" cy="581" r="2.5"/>
<circle cx="763" cy="569" r="2.5"/>
<circle cx="769" cy="599" r="2.5"/>
<circle cx="774" cy="592" r="2.5"/>
<circle cx="779" cy="588" r="2.5"/>
<circle cx="787" cy="586" r="2.5"/>
<circle cx="793" cy="599" r="2.5"/>
<circle cx="801" cy="585" r="2.5"/>
<circle cx="803" cy="595" r="2.5"/>
<circle cx="810" cy="597" r="2.5"/>
<circle cx="818" cy="576" r="2.5"/>
<circle cx="823" cy="592" r="2.5"/>
<circle cx="828" cy="596" r="2.5"/>
<circle cx="833" cy="592" r="2.5"/>
<circle cx="838" cy="594" r="2.5"/>
<circle cx="845" cy="596" r="2.5"/>
<circle cx="851" cy="585" r="2.5"/>
<circle cx="855" cy="583" r="2.5"/>
<circle cx="861" cy="570" r="2.5"/>
<circle cx="867" cy="602" r="2.5"/>
<circle cx="878" cy="578" r="2.5"/>
<circle cx="887" cy="597" r="2.5"/>
<circle cx="891" cy="582" r="2.5"/>
<circle cx="898" cy="599" r="2.5"/>
<circle cx="904" cy="594" r="2.5"/>
<circle cx="910" cy="593" r="2.5"/>
<circle cx="916" cy="600" r="2.5"/>
<circle cx="922" cy="587" r="2.5"/>
<circle cx="927" cy="594" r="2.5"/>
<circle cx="933" cy="603" r="2.5"/>
<circle cx="939" cy="602" r="2.5"/>
<circle cx="945" cy="599" r="2.5"/>
<circle cx="952" cy="590" r="2.5"/>
<circle cx="963" cy="582" r="2.5"/>
<circle cx="966" cy="592" r="2.5"/>
<circle cx="976" cy="581" r="2.5"/>
<circle cx="980" cy="595" r="2.5"/>
<circle cx="985" cy="573" r="2.5"/>
<circle cx="991" cy="585" r="2.5"/>
<circle cx="997" cy="585" r="2.5"/>
<circle cx="1004" cy="591" r="2.5"/>
<circle cx="1009" cy="569" r="2.5"/>
<circle cx="1015" cy="585" r="2.5"/>
<circle cx="1022" cy="587" r="2.5"/>
<circle cx="1028" cy="586" r="2.5"/>
<circle cx="1033" cy="598" r="2.5"/>
<circle cx="1039" cy="582" r="2.5"/>
<circle cx="1046" cy="581" r="2.5"/>
<circle cx="1054" cy="597" r="2.5"/>
<circle cx="1057" cy="586" r="2.5"/>
<circle cx="1066" cy="587" r="2.5"/>
<circle cx="1067" cy="599" r="2.5"/>
<circle cx="1075" cy="591" r="2.5"/>
<circle cx="1078" cy="582" r="2.5"/>
<circle cx="1085" cy="588" r="2.5"/>
<circle cx="1094" cy="594" r="2.5"/>
<circle cx="1098" cy="582" r="2.5"/>
<circle cx="1104" cy="595" r="2.5"/>
<circle cx="1110" cy="599" r="2.5"/>
<circle cx="1115" cy="567" r="2.5"/>
<circle cx="1120" cy="583" r="2.5"/>
<circle cx="1129" cy="597" r="2.5"/>
<circle cx="1133" cy="598" r="2.5"/>
<circle cx="1139" cy="602" r="2.5"/>
<circle cx="1144" cy="593" r="2.5"/>
<circle cx="1152" cy="599" r="2.5"/>
<circle cx="1159" cy="590" r="2.5"/>
<circle cx="1166" cy="564" r="2.5"/>
<circle cx="1169" cy="561" r="2.5"/>
<circle cx="1176" cy="564" r="2.5"/>
<circle cx="1181" cy="586" r="2.5"/>
<circle cx="1186" cy="586" r="2.5"/>
<circle cx="1191" cy="587" r="2.5"/>
<circle cx="1197" cy="593" r="2.5"/>
<circle cx="1207" cy="563" r="2.5"/>
<circle cx="1208" cy="597" r="2.5"/>
<circle cx="1217" cy="595" r="2.5"/>
<circle cx="1222" cy="592" r="2.5"/>
<circle cx="1229" cy="586" r="2.5"/>
<circle cx="1233" cy="591" r="2.5"/>
<circle cx="1240" cy="593" r="2.5"/>
<circle cx="1245" cy="596" r="2.5"/>
<circle cx="1250" cy="592" r="2.5"/>
<circle cx="877" cy="410" r="2.5"/>
<circle cx="958" cy="547" r="2.5"/>
</g>
<rect x="604.5" y="311.5" width="669" height="298" fill="none" stroke="#000" stroke-width="1" shape-rendering="crispEdges"/>
<rect x="538" y="654" width="33" height="2" fill="#0000ff"/><rect x="976" y="654" width="33" height="2" fill="#ff0000"/><rect x="538" y="674" width="33" height="2" fill="#00b200"/><rect x="976" y="674" width="33" height="2" fill="#404040"/><rect x="538" y="694" width="33" height="2" fill="#ff00ff"/><rect x="976" y="694" width="33" height="2" fill="#ffc800"/><rect x="538" y="714" width="33" height="2" fill="#000000"/><rect x="976" y="714" width="33" height="2" fill="#0000ff"/><rect x="538" y="734" width="33" height="2" fill="#ff0000"/><rect x="976" y="734" width="33" height="2" fill="#00b200"/><rect x="538" y="754" width="33" height="2" fill="#404040"/><rect x="976" y="754" width="33" height="2" fill="#ff00ff"/>
<path d="M554 772h2v1h-2zM553 773h1v1h-1zM556 773h1v1h-1zM552 774h1v2h-1zM557 774h1v2h-1zM553 776h1v1h-1zM556 776h1v1h-1zM554 777h2v1h-2z" fill="#000" shape-rendering="crispEdges"/>
</svg>
<div class="t" style="left:584px;top:648px;font-size:12px;line-height:14px;color:#000;letter-spacing:0.124px;">0.2 Percent Chance Exceedance</div>
<div class="t" style="left:1022px;top:648px;font-size:12px;line-height:14px;color:#000;letter-spacing:0.124px;">0.5 Percent Chance Exceedance</div>
<div class="t" style="left:584px;top:668px;font-size:12px;line-height:14px;color:#000;letter-spacing:0.124px;">1.0 Percent Chance Exceedance</div>
<div class="t" style="left:1022px;top:668px;font-size:12px;line-height:14px;color:#000;letter-spacing:0.124px;">2.0 Percent Chance Exceedance</div>
<div class="t" style="left:584px;top:688px;font-size:12px;line-height:14px;color:#000;letter-spacing:0.124px;">5.0 Percent Chance Exceedance</div>
<div class="t" style="left:1022px;top:688px;font-size:12px;line-height:14px;color:#000;letter-spacing:0.131px;">10.0 Percent Chance Exceedance</div>
<div class="t" style="left:584px;top:708px;font-size:12px;line-height:14px;color:#000;letter-spacing:0.131px;">20.0 Percent Chance Exceedance</div>
<div class="t" style="left:1022px;top:708px;font-size:12px;line-height:14px;color:#000;letter-spacing:0.131px;">50.0 Percent Chance Exceedance</div>
<div class="t" style="left:584px;top:728px;font-size:12px;line-height:14px;color:#000;letter-spacing:0.131px;">80.0 Percent Chance Exceedance</div>
<div class="t" style="left:1022px;top:728px;font-size:12px;line-height:14px;color:#000;letter-spacing:0.131px;">90.0 Percent Chance Exceedance</div>
<div class="t" style="left:584px;top:748px;font-size:12px;line-height:14px;color:#000;letter-spacing:0.131px;">95.0 Percent Chance Exceedance</div>
<div class="t" style="left:1022px;top:748px;font-size:12px;line-height:14px;color:#000;letter-spacing:0.131px;">99.0 Percent Chance Exceedance</div>
<div class="t" style="left:578px;top:768px;font-size:12px;line-height:14px;color:#000;letter-spacing:0.018px;">Shoemakers, PA Observed Events FLOW-ANNUAL PEAK</div>
<div class="t" style="left:198.27px;width:400px;text-align:right;top:603px;font-size:13px;line-height:15px;color:#000;letter-spacing:0.27px;">0</div>
<div class="t" style="left:198.27px;width:400px;text-align:right;top:561px;font-size:13px;line-height:15px;color:#000;letter-spacing:0.27px;">5,000</div>
<div class="t" style="left:198.27px;width:400px;text-align:right;top:518px;font-size:13px;line-height:15px;color:#000;letter-spacing:0.27px;">10,000</div>
<div class="t" style="left:198.27px;width:400px;text-align:right;top:475px;font-size:13px;line-height:15px;color:#000;letter-spacing:0.27px;">15,000</div>
<div class="t" style="left:198.27px;width:400px;text-align:right;top:433px;font-size:13px;line-height:15px;color:#000;letter-spacing:0.27px;">20,000</div>
<div class="t" style="left:198.27px;width:400px;text-align:right;top:390px;font-size:13px;line-height:15px;color:#000;letter-spacing:0.27px;">25,000</div>
<div class="t" style="left:198.27px;width:400px;text-align:right;top:347px;font-size:13px;line-height:15px;color:#000;letter-spacing:0.27px;">30,000</div>
<div class="t" style="left:198.27px;width:400px;text-align:right;top:305px;font-size:13px;line-height:15px;color:#000;letter-spacing:0.27px;">35,000</div>
<div class="t" style="left:367.63px;width:600px;text-align:center;top:619px;font-size:13px;line-height:15px;color:#000;letter-spacing:0.27px;">1920</div>
<div class="t" style="left:485.63px;width:600px;text-align:center;top:619px;font-size:13px;line-height:15px;color:#000;letter-spacing:0.27px;">1940</div>
<div class="t" style="left:603.63px;width:600px;text-align:center;top:619px;font-size:13px;line-height:15px;color:#000;letter-spacing:0.27px;">1960</div>
<div class="t" style="left:720.63px;width:600px;text-align:center;top:619px;font-size:13px;line-height:15px;color:#000;letter-spacing:0.27px;">1980</div>
<div class="t" style="left:838.63px;width:600px;text-align:center;top:619px;font-size:13px;line-height:15px;color:#000;letter-spacing:0.27px;">2000</div>
<div class="t" style="left:956.63px;width:600px;text-align:center;top:619px;font-size:13px;line-height:15px;color:#000;letter-spacing:0.27px;">2020</div>
<div class="t" style="left:478px;top:468px;width:120px;text-align:center;font-size:13px;line-height:15px;letter-spacing:-0.072px;transform:rotate(-90deg);transform-origin:60px 7px">Flow (CFS)</div>
<div style="left:176px;top:803px;width:81px;height:23px;background:#e1e1e1;border:1px solid #adadad;box-sizing:border-box;"></div>
<div class="t" style="left:-83.41px;width:600px;text-align:center;top:808px;font-size:12px;line-height:14px;color:#000;letter-spacing:0.188px;">Compute</div>
<div style="left:269px;top:803px;width:87px;height:23px;background:#e1e1e1;border:1px solid #adadad;box-sizing:border-box;border:2px solid #0078d7;"></div>
<div class="t" style="left:12.55px;width:600px;text-align:center;top:808px;font-size:12px;line-height:14px;color:#000;letter-spacing:0.098px;">Plot Curve</div>
<div style="left:271px;top:805px;width:84px;height:20px;border:1px dotted #000;box-sizing:border-box"></div>
<div style="left:368px;top:803px;width:97px;height:23px;background:#e1e1e1;border:1px solid #adadad;box-sizing:border-box;"></div>
<div class="t" style="left:116.58px;width:600px;text-align:center;top:808px;font-size:12px;line-height:14px;color:#000;letter-spacing:0.169px;">View Report</div>
<div style="left:477px;top:803px;width:55px;height:23px;background:#e1e1e1;border:1px solid #adadad;box-sizing:border-box;"></div>
<div class="t" style="left:204.53px;width:600px;text-align:center;top:808px;font-size:12px;line-height:14px;color:#000;letter-spacing:0.066px;">Print</div>
<div style="left:1056px;top:803px;width:84px;height:23px;background:#e1e1e1;border:1px solid #adadad;box-sizing:border-box;"></div>
<div class="t" style="left:797.92px;width:600px;text-align:center;top:808px;font-size:12px;line-height:14px;color:#000;letter-spacing:-0.164px;">OK</div>
<div style="left:1147px;top:803px;width:84px;height:23px;background:#e1e1e1;border:1px solid #adadad;box-sizing:border-box;"></div>
<div class="t" style="left:889.14px;width:600px;text-align:center;top:808px;font-size:12px;line-height:14px;color:#000;letter-spacing:0.273px;">Cancel</div>
<div style="left:1238px;top:803px;width:84px;height:23px;background:#e1e1e1;border:1px solid #adadad;box-sizing:border-box;background:#cccccc;border-color:#bfbfbf;"></div>
<div class="t" style="left:980.10px;width:600px;text-align:center;top:808px;font-size:12px;line-height:14px;color:#838383;letter-spacing:0.197px;">Apply</div>
</body></html>
